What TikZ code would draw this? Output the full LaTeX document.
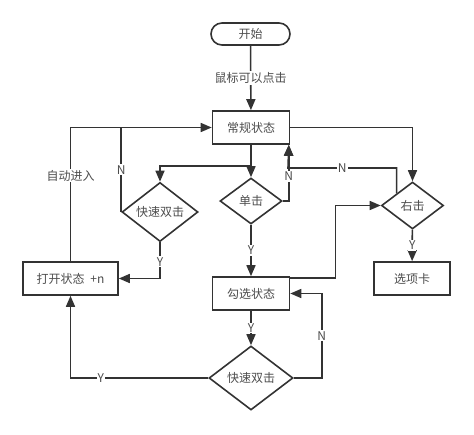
\documentclass[tikz,border=0pt]{standalone}
\usepackage{fontspec}
\setmainfont{Noto Sans CJK SC}
\usetikzlibrary{positioning,arrows.meta,calc,shapes.geometric}

\begin{document}
\begin{tikzpicture}[
  x=1pt,y=-1pt,>={Triangle[length=11pt,width=9pt]},
  font=\fontsize{12}{14}\selectfont,
  link/.style={draw=black!80,line width=1.6pt},
  flow/.style={link,->},
  procbox/.style={rectangle,draw=black!80,line width=1.6pt,text=black!70,minimum width=77pt,minimum height=33pt,inner sep=0pt},
  startbox/.style={procbox,rounded corners=11pt,minimum width=79pt,minimum height=22pt},
  decision/.style={diamond,draw=black!80,line width=1.6pt,text=black!70,inner sep=0pt},
  lbl/.style={fill=white,text=black!70,inner sep=1pt}
]
\useasboundingbox (0,0) rectangle (474,434);
\node[startbox] (start) at (250.5,34) {开始};
\node[procbox] (normal) at (251,127.5) {常规状态};
\node[decision,minimum width=76pt,minimum height=50pt] (dblA) at (160,212) {快速双击};
\node[decision,minimum width=62pt,minimum height=46pt] (click) at (251,201) {单击};
\node[decision,minimum width=62pt,minimum height=47pt] (right) at (412.5,205.5) {右击};
\node[procbox,minimum width=76pt] (tab) at (412,278.5) {选项卡};
\node[procbox] (check) at (251,293.5) {勾选状态};
\node[decision,minimum width=84pt,minimum height=64pt] (dblB) at (251,378) {快速双击};
\node[procbox,minimum width=95pt] (open) at (70.5,278.5) {打开状态\hspace{3pt} +n};
\coordinate (split) at (251,166);
\coordinate (back) at (288,168);

\draw[flow] (start) -- node[lbl]{鼠标可以点击} (normal);
\draw[flow] (normal.south) -- (split) -- (click.north);
\draw[flow] (split) -| (dblA.north);
\draw[flow] (open.north) |- node[lbl,pos=.32]{自动进入} (normal.west);
\draw[link] (dblA.west) -- node[lbl]{N} (dblA.west |- normal.west);
\draw[flow] (dblA.south) |- node[lbl,pos=.27]{Y} (open.east);
\draw[flow] (click) -- node[lbl]{Y} (check);
\draw[flow] (click.east) -| node[lbl,pos=.72]{N} ([xshift=-1.5pt]normal.south east);
\draw[flow] ($(right.west)!.5!(right.north)$) |- node[lbl,pos=.75]{N} (back) -- ([xshift=-1.5pt]normal.south east);
\draw[flow] (normal.east) -| (right.north);
\draw[flow] (right) -- node[lbl]{Y} (tab);
\draw[flow] ([yshift=-1.5pt]check.north east) -- ++(45,0) |- (right.west);
\draw[flow] (check) -- node[lbl]{Y} (dblB);
\draw[flow] (dblB.east) -- ++(28,0) |- node[lbl,pos=.25]{N} (check.east);
\draw[flow] (dblB.west) -| node[lbl,pos=.39]{Y} (open.south);
\end{tikzpicture}
\end{document}
